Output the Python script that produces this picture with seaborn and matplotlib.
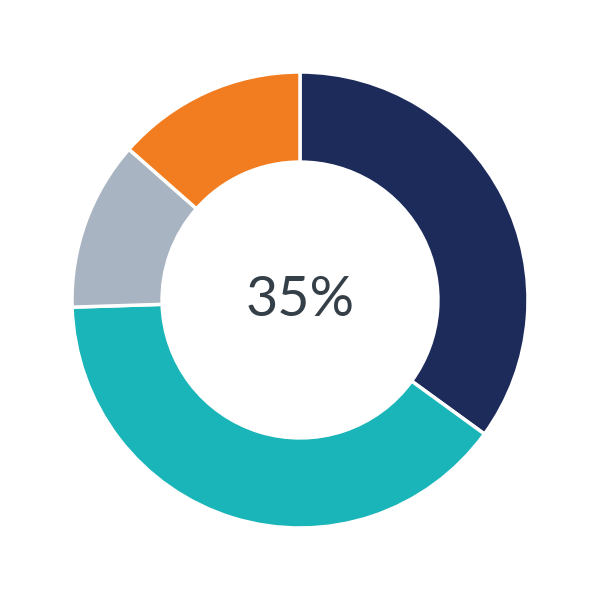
import matplotlib
matplotlib.use("Agg")
import matplotlib.pyplot as plt
import seaborn as sns

# data, clockwise from 12 o'clock
labels = ["Navy", "Teal", "Gray", "Orange"]
shares = [35, 39.5, 12, 13.5]
colors = ["#1c2b5a", "#1ab5b8", "#a9b4c2", "#f27d21"]
center_label = "35%"

sns.set_theme(style="white")
plt.rcParams["font.family"] = ["Lato", "DejaVu Sans"]

fig = plt.figure(figsize=(6, 6), dpi=100)
ax = fig.add_axes([0, 0, 1, 1])

ax.pie(
    shares,
    colors=colors,
    startangle=90,
    counterclock=False,
    radius=1.0,
    wedgeprops=dict(width=0.395, edgecolor="white", linewidth=2.5),
)
ax.text(0, 0, center_label, ha="center", va="center",
        fontsize=40, color="#353f47", fontweight="normal")

lim = 300 / 228
ax.set_xlim(-lim, lim)
ax.set_ylim(-lim, lim)
ax.set_aspect("equal")
ax.axis("off")

fig.savefig("out.png", dpi=100, facecolor="white")
plt.close(fig)
